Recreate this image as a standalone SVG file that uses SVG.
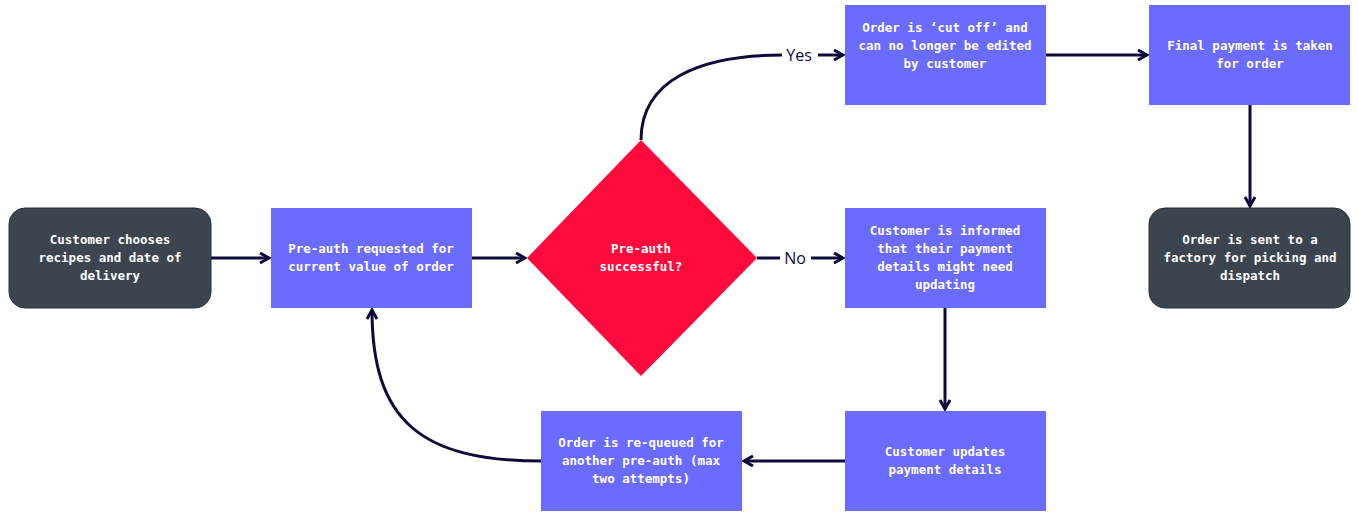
<svg xmlns="http://www.w3.org/2000/svg" width="1358" height="519" viewBox="0 0 1358 519">
<defs>
<style>
.dark{fill:#3b4550;stroke:#2a323a;stroke-width:1}
.box{fill:#6b6bff}
.t{font-family:"DejaVu Sans Mono","Liberation Mono",monospace;font-weight:bold;font-size:12.5px;fill:#fff;text-anchor:middle}
.c{fill:none;stroke:#0d0a3a;stroke-width:3}
.lbl{font-family:"Open Sans","Liberation Sans",sans-serif;font-size:16px;fill:#0d0a3a;text-anchor:middle}
</style>
<marker id="a" viewBox="0 0 12 12" refX="10" refY="6" markerWidth="12" markerHeight="12" markerUnits="userSpaceOnUse" orient="auto">
<path d="M1,1 L10,6 L1,11" fill="none" stroke="#0d0a3a" stroke-width="3"/>
</marker>
</defs>
<rect width="1358" height="519" fill="#fff"/>
<g id="start"><rect class="dark" x="9" y="208" width="202" height="100" rx="16"/>
<text class="t" x="110" y="244">Customer chooses</text><text class="t" x="110" y="262">recipes and date of</text><text class="t" x="110" y="280">delivery</text></g>
<g id="preauth"><rect class="box" x="271" y="208" width="201" height="100"/>
<text class="t" x="371" y="253">Pre-auth requested for</text><text class="t" x="371" y="271">current value of order</text></g>
<g id="decision"><polygon points="641,140 757,258 641,376 527,258" fill="#ff0a3c"/>
<text class="t" x="641" y="253">Pre-auth</text><text class="t" x="641" y="271">successful?</text></g>
<g id="cutoff"><rect class="box" x="845" y="5" width="201" height="100"/>
<text class="t" x="945" y="32">Order is ‘cut off’ and</text><text class="t" x="945" y="50">can no longer be edited</text><text class="t" x="945" y="68">by customer</text></g>
<g id="final"><rect class="box" x="1149" y="5" width="201" height="100"/>
<text class="t" x="1250" y="50">Final payment is taken</text><text class="t" x="1250" y="68">for order</text></g>
<g id="sent"><rect class="dark" x="1149" y="208" width="201" height="100" rx="16"/>
<text class="t" x="1250" y="244">Order is sent to a</text><text class="t" x="1250" y="262">factory for picking and</text><text class="t" x="1250" y="280">dispatch</text></g>
<g id="informed"><rect class="box" x="845" y="208" width="201" height="100"/>
<text class="t" x="945" y="235">Customer is informed</text><text class="t" x="945" y="253">that their payment</text><text class="t" x="945" y="271">details might need</text><text class="t" x="945" y="289">updating</text></g>
<g id="updates"><rect class="box" x="845" y="411" width="201" height="100"/>
<text class="t" x="945" y="456">Customer updates</text><text class="t" x="945" y="474">payment details</text></g>
<g id="requeue"><rect class="box" x="541" y="411" width="201" height="100"/>
<text class="t" x="641" y="447">Order is re-queued for</text><text class="t" x="641" y="465">another pre-auth (max</text><text class="t" x="641" y="483">two attempts)</text></g>
<g id="connectors">
<path class="c" d="M211,258 H269" marker-end="url(#a)"/>
<path class="c" d="M472,258 H525" marker-end="url(#a)"/>
<path class="c" d="M641,140 C641,80 700,55 782,55"/>
<path class="c" d="M818,55 H843" marker-end="url(#a)"/>
<text class="lbl" x="799" y="61">Yes</text>
<path class="c" d="M757,258 H780"/>
<path class="c" d="M811,258 H843" marker-end="url(#a)"/>
<text class="lbl" x="795" y="264">No</text>
<path class="c" d="M1046,55 H1147" marker-end="url(#a)"/>
<path class="c" d="M1250,105 V206" marker-end="url(#a)"/>
<path class="c" d="M945,308 V409" marker-end="url(#a)"/>
<path class="c" d="M845,461 H744" marker-end="url(#a)"/>
<path class="c" d="M541,461 C420,461 372,420 372,310" marker-end="url(#a)"/>
</g>
</svg>
